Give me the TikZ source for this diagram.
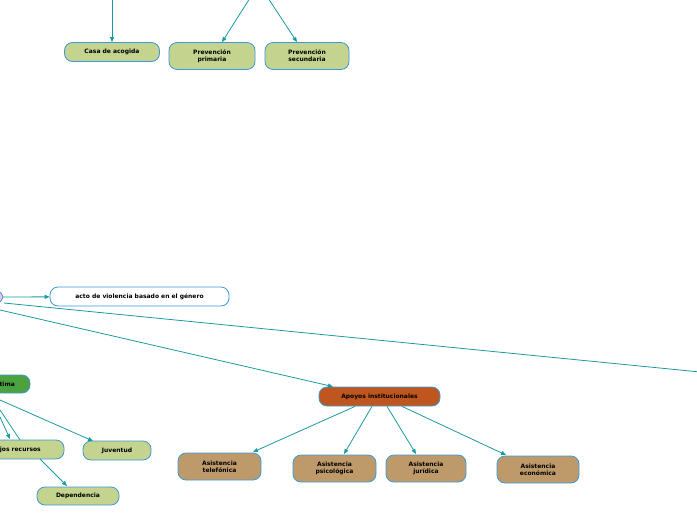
\documentclass[tikz,border=0pt]{standalone}
\usepackage{fontspec}
\setmainfont{DejaVu Sans}
\usetikzlibrary{arrows.meta,shapes.geometric}
\definecolor{edge}{HTML}{1A9AA0}
\definecolor{bord}{HTML}{3A9AD9}
\definecolor{lgreen}{HTML}{C4D38E}
\definecolor{dgreen}{HTML}{4BA23E}
\definecolor{brown}{HTML}{BE9A6A}
\definecolor{orange}{HTML}{C0561F}
\definecolor{pinkk}{HTML}{F2C4E0}
\tikzset{
 box/.style={draw=bord,line width=0.8pt,rounded corners=8pt,font=\bfseries\fontsize{6}{7}\selectfont,align=center,inner sep=0pt},
 conn/.style={draw=edge,line width=0.8pt,-{Triangle[length=5pt,width=4pt]}},
}
\begin{document}
\begin{tikzpicture}[x=1pt,y=-1pt]
\useasboundingbox (0,0) rectangle (697,520);
\clip (0,0) rectangle (697,520);
\node[box,fill=lgreen,minimum width=95,minimum height=19] (casa) at (112,52) {Casa de acogida};
\node[box,fill=lgreen,minimum width=86,minimum height=27] (pp) at (212,56) {Prevención\\primaria};
\node[box,fill=lgreen,minimum width=84,minimum height=27] (ps) at (307,56) {Prevención\\secundaria};
\coordinate (t1) at (112,-2);
\coordinate (t2) at (250,-2);
\coordinate (t3) at (268,-2);
\draw[conn] (t1) -- (casa);
\draw[conn] (t2) -- (pp.north -| 222,0);
\draw[conn] (t3) -- (ps.north -| 297,0);
\node[draw=bord,fill=pinkk,ellipse,minimum width=40,minimum height=18,line width=0.8pt] (root) at (-17,297) {};
\node[box,fill=white,minimum width=179,minimum height=19] (acto) at (139.5,296.5) {acto de violencia basado en el género};
\coordinate (far) at (700,372);
\draw[conn] (3,297) -- (acto);
\draw[draw=edge,line width=0.8pt] (4,303) -- (far);
\node[box,fill=orange,minimum width=121,minimum height=19] (apoyos) at (379.5,396.5) {Apoyos institucionales};
\draw[conn] (0,310) -- (apoyos.north -| 333,0);
\node[box,fill=brown,minimum width=83,minimum height=27] (a1) at (219.5,466.5) {Asistencia\\telefónica};
\node[box,fill=brown,minimum width=83,minimum height=27] (a2) at (334.5,468.5) {Asistencia\\psicológica};
\node[box,fill=brown,minimum width=80,minimum height=27] (a3) at (426,468.5) {Asistencia\\jurídica};
\node[box,fill=brown,minimum width=82,minimum height=27] (a4) at (538,469.5) {Asistencia\\económica};
\draw[conn] (apoyos.south -| 355,0) -- (253,452);
\draw[conn] (apoyos.south -| 372,0) -- (344,454);
\draw[conn] (apoyos.south -| 387,0) -- (416,454);
\draw[conn] (apoyos.south -| 402,0) -- (506,455);
\node[box,fill=dgreen,minimum width=80,minimum height=18] (vic) at (-10,384) {};
\node[font=\bfseries\fontsize{6}{7}\selectfont,anchor=east,inner sep=0pt] (victxt) at (15,384) {Víctima};
\node[box,fill=lgreen,minimum width=96,minimum height=19] (bajos) at (16,449.5) {Bajos recursos};
\node[box,fill=lgreen,minimum width=68,minimum height=19] (juv) at (117,450.5) {Juventud};
\node[box,fill=lgreen,minimum width=82,minimum height=18] (dep) at (78,496) {Dependencia};
\draw[conn] (0,400) -- (93,441);
\draw[conn] (0,417) -- (10,439);
\draw[draw=edge,line width=0.8pt] (0,410) -- (20,440);
\draw[conn] (40,459) -- (67,486);
\end{tikzpicture}
\end{document}
